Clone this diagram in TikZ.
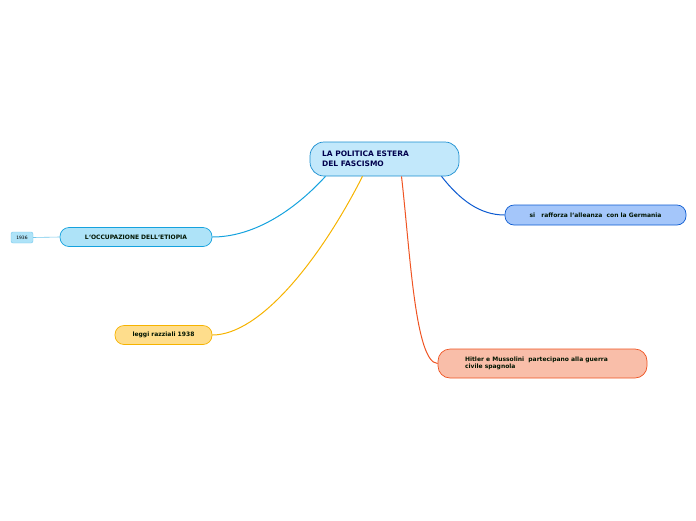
\documentclass[tikz,border=0pt]{standalone}
\usepackage{fontspec}
\setmainfont{DejaVu Sans}
\begin{document}
\begin{tikzpicture}[x=1pt,y=-1pt,
 box/.style={draw,rounded corners=9pt,line width=0.7pt,font=\bfseries\fontsize{6}{7.5}\selectfont,text=black!80!green!40!black,inner sep=0pt,align=left},
 ln/.style={line width=1pt}]
\useasboundingbox (0,0) rectangle (696,520);
\definecolor{cb}{HTML}{C2E8FB}\definecolor{cbd}{HTML}{1A8ED0}
\definecolor{eb}{HTML}{AEE3F8}\definecolor{ebd}{HTML}{15A2DE}
\definecolor{yb}{HTML}{FEDD8C}\definecolor{ybd}{HTML}{F6B300}
\definecolor{bb}{HTML}{A4C6FA}\definecolor{bbd}{HTML}{0D5BD1}
\definecolor{rb}{HTML}{F9BEA9}\definecolor{rbd}{HTML}{EF5423}
\node[box,fill=cb,draw=cbd,minimum width=149pt,minimum height=34pt,rounded corners=14pt,font=\bfseries\fontsize{7.5}{9.5}\selectfont,text=blue!30!black] (c) at (384.5,159) {\hspace*{-38pt}LA POLITICA ESTERA\\\hspace*{-38pt}DEL FASCISMO};
\node[box,fill=eb,draw=ebd,minimum width=152pt,minimum height=19pt] (e) at (136,237) {L`OCCUPAZIONE DELL`ETIOPIA};
\node[draw=ebd!60,fill=eb,rounded corners=2pt,minimum width=22pt,minimum height=11pt,inner sep=0pt,font=\fontsize{4.5}{5}\selectfont] (y) at (22,237.5) {1936};
\node[box,fill=yb,draw=ybd,minimum width=97pt,minimum height=19pt] (l) at (163.5,335) {leggi razziali 1938};
\node[box,fill=bb,draw=bbd,minimum width=181pt,minimum height=20pt] (s) at (595.5,215) {si\ \ \ rafforza l`alleanza\ \ con la Germania};
\node[box,fill=rb,draw=rbd,minimum width=209pt,minimum height=29pt,rounded corners=12pt] (h) at (542.5,363.5) {\hspace*{-12pt}Hitler e Mussolini\ \ partecipano alla guerra\\\hspace*{-12pt}civile spagnola};
\draw[ebd!60,line width=0.6pt] (y.east) -- (e.west);
\draw[ln,ebd] ([xshift=-59pt]c.south) .. controls (290,215) and (250,237) .. (e.east);
\draw[ln,ybd] ([xshift=-22pt]c.south) .. controls (320,260) and (260,335) .. (l.east);
\draw[ln,rbd] ([xshift=17pt]c.south) .. controls (410,250) and (415,363) .. (h.west);
\draw[ln,bbd] ([xshift=57pt]c.south) .. controls (460,200) and (480,215) .. (s.west);
\end{tikzpicture}
\end{document}
